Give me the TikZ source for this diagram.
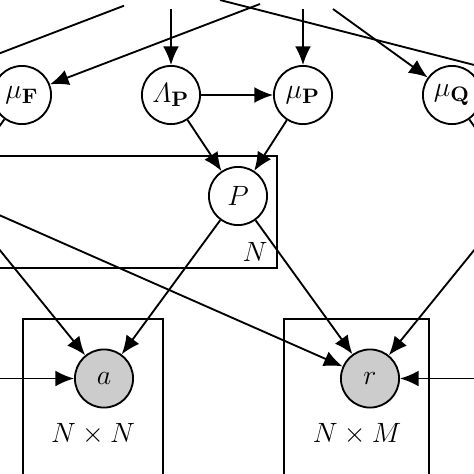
\documentclass[tikz,border=0pt]{standalone}
\usepackage{amsmath}
\usetikzlibrary{arrows.meta}
\begin{document}
\begin{tikzpicture}[x=0.43pt,y=-0.43pt,
  latent/.style={circle,draw,line width=0.8pt,minimum size=25pt,inner sep=0pt,font=\fontsize{13}{15}\selectfont},
  obs/.style={latent,fill=black!20},
  edge/.style={line width=0.8pt,-{Latex[length=8pt,width=6.8pt]}},
  plain/.style={line width=0.8pt},
  plate/.style={line width=0.8pt},
  lab/.style={font=\fontsize{11.5}{13}\selectfont,inner sep=0pt}]
\useasboundingbox (0,0) rectangle (474,474);
\clip (0,0) rectangle (474,474);
% plates
\draw[plate] (-20,156) rectangle (277,268);
\draw[plate] (22.7,319.3) rectangle (163.3,500);
\draw[plate] (284.3,319.3) rectangle (429.3,500);
\node[lab] (labN) at (255,252) {$N$};
\node[lab] (labNN) at (93,434) {$N\times N$};
\node[lab] (labNM) at (357,434) {$N\times M$};
% nodes
\node[latent] (muF) at (22,95) {$\mu_{\mathbf{F}}$};
\node[latent] (LP) at (171,95) {$\varLambda_{\mathbf{P}}$};
\node[latent] (muP) at (303,95) {$\mu_{\mathbf{P}}$};
\node[latent] (muQ) at (452,95) {$\mu_{\mathbf{Q}}$};
\node[latent] (P) at (238,196) {$P$};
\node[obs] (a) at (104,378.5) {$a$};
\node[obs] (r) at (370,378.5) {$r$};
% free ends
\coordinate (t1a) at (124,5.7);
\coordinate (t1b) at (-10,57);
\coordinate (t2) at (260,4);
\coordinate (t3a) at (220,0);
\coordinate (t3b) at (490,69);
\coordinate (t4) at (171,9);
\coordinate (t5) at (303,9);
\coordinate (t6) at (333,9);
\coordinate (l1) at (-10,211);
\coordinate (l2) at (-10,238);
\coordinate (rr) at (484,238);
\coordinate (la) at (-10,378.5);
\coordinate (rb) at (484,378.5);
\coordinate (fF) at (-80,236);
\coordinate (fQ) at (562,250);
% connectors
\draw[plain] (t1a) -- (t1b);
\draw[plain] (t3a) -- (t3b);
\draw[edge] (t2) -- (muF);
\draw[edge] (t4) -- (LP);
\draw[edge] (t5) -- (muP);
\draw[edge] (t6) -- (muQ);
\draw[plain] (muF) -- (fF);
\draw[plain] (muQ) -- (fQ);
\draw[edge] (LP) -- (muP);
\draw[edge] (LP) -- (P);
\draw[edge] (muP) -- (P);
\draw[edge] (P) -- (a);
\draw[edge] (P) -- (r);
\draw[edge] (l1) -- (r);
\draw[edge] (l2) -- (a);
\draw[edge] (rr) -- (r);
\draw[edge] (la) -- (a);
\draw[edge] (rb) -- (r);
\end{tikzpicture}
\end{document}
